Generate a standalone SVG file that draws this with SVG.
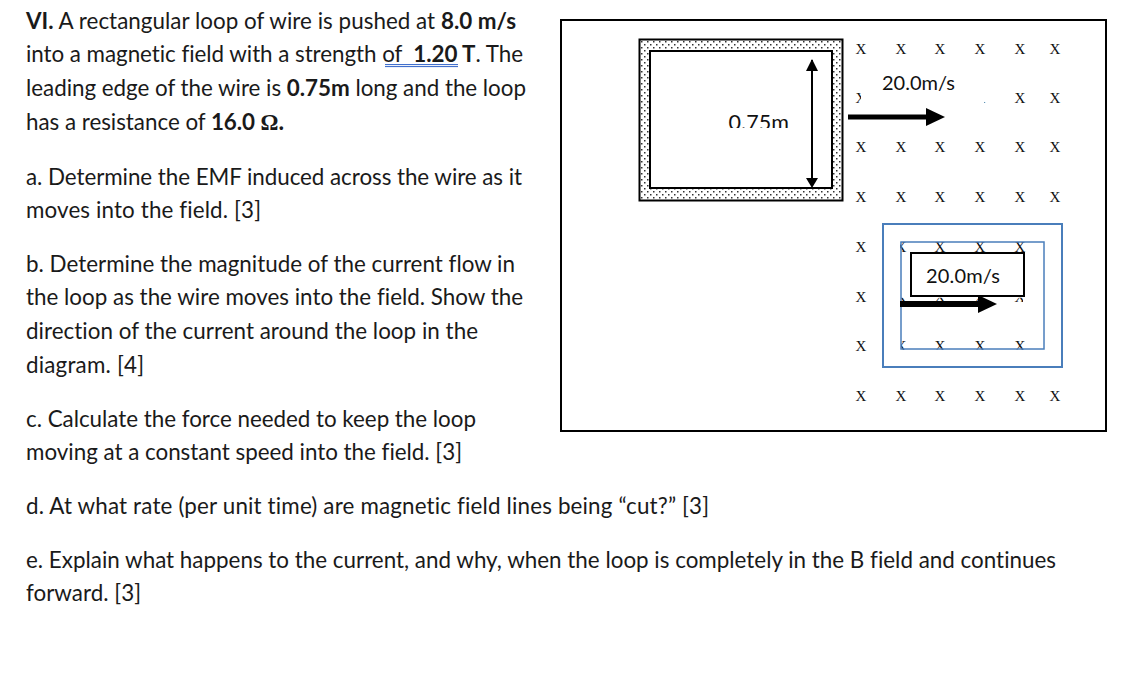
<svg xmlns="http://www.w3.org/2000/svg" width="1134" height="676" viewBox="0 0 1134 676">
<style>
.t{font-family:"Lato","Carlito","Liberation Sans",sans-serif;font-size:22.400px;fill:#1a1a1a;font-variant-ligatures:none}
.b{font-weight:700}
.o{font-family:"Liberation Serif",serif;font-weight:700}
.d{font-family:"Lato","Liberation Sans",sans-serif;font-size:20px;fill:#111}
.x{font-family:"Liberation Serif",serif;font-size:15px;fill:#111;text-anchor:middle}
</style>
<defs>
<pattern id="dots" width="6" height="6" patternUnits="userSpaceOnUse" x="640" y="40">
<rect width="6" height="6" fill="#fff"/>
<rect x="1" y="1" width="1.500" height="1.500" fill="#333"/>
<rect x="4" y="4" width="1.500" height="1.500" fill="#333"/>
</pattern>
<clipPath id="c075"><rect x="700" y="100" width="110" height="28"/></clipPath>
<clipPath id="cA"><rect x="855" y="85" width="6" height="25"/></clipPath>
<clipPath id="cS"><rect x="984" y="99" width="3" height="4"/></clipPath>
<clipPath id="cB"><rect x="900" y="240" width="124" height="13"/><rect x="1024" y="240" width="15" height="13"/></clipPath>
<clipPath id="cC"><rect x="901" y="297" width="122" height="10"/></clipPath>
<clipPath id="cD"><rect x="901" y="335" width="144" height="14"/></clipPath>
</defs>

<g id="question-text" transform="translate(0 0.600)">
<text class="t" x="26" y="28" textLength="490"><tspan class="b">VI.</tspan> A rectangular loop of wire is pushed at <tspan class="b">8.0 m/s</tspan></text>
<text class="t" x="26" y="61" textLength="497">into a magnetic field with a strength of&#160; <tspan class="b">1.20 T</tspan>. The</text>
<text class="t" x="26" y="95" textLength="500">leading edge of the wire is <tspan class="b">0.75m</tspan> long and the loop</text>
<text class="t" x="26" y="129" textLength="258">has a resistance of <tspan class="b">16.0 </tspan><tspan class="o">Ω.</tspan></text>
<text class="t" x="26" y="184" textLength="496">a. Determine the EMF induced across the wire as it</text>
<text class="t" x="26" y="217" textLength="235">moves into the field. [3]</text>
<text class="t" x="26" y="271" textLength="489">b. Determine the magnitude of the current flow in</text>
<text class="t" x="26" y="304" textLength="497">the loop as the wire moves into the field. Show the</text>
<text class="t" x="26" y="338" textLength="452">direction of the current around the loop in the</text>
<text class="t" x="26" y="372" textLength="118">diagram. [4]</text>
<text class="t" x="26" y="426" textLength="450">c. Calculate the force needed to keep the loop</text>
<text class="t" x="26" y="459" textLength="436">moving at a constant speed into the field. [3]</text>
<text class="t" x="26" y="513" textLength="683">d. At what rate (per unit time) are magnetic field lines being “cut?” [3]</text>
<text class="t" x="26" y="567" textLength="1030">e. Explain what happens to the current, and why, when the loop is completely in the B field and continues</text>
<text class="t" x="26" y="600" textLength="115">forward. [3]</text>
<path d="M385 64H458M385 66H458" stroke="#2f62c8" stroke-width="1" fill="none"/>
</g>

<g id="frame"><rect x="561" y="20" width="545" height="411" fill="#fff" stroke="#000" stroke-width="2"/></g>

<g id="field-x" transform="translate(0 0.700)">
<text class="x" x="861" y="53">X</text><text class="x" x="901" y="53">X</text><text class="x" x="940" y="53">X</text><text class="x" x="980" y="53">X</text><text class="x" x="1020" y="53">X</text><text class="x" x="1055" y="53">X</text>
<text class="x" x="861" y="102" clip-path="url(#cA)">X</text><text class="x" x="980" y="102" clip-path="url(#cS)">X</text><text class="x" x="1020" y="102">X</text><text class="x" x="1055" y="102">X</text>
<text class="x" x="861" y="151">X</text><text class="x" x="901" y="151">X</text><text class="x" x="940" y="151">X</text><text class="x" x="980" y="151">X</text><text class="x" x="1020" y="151">X</text><text class="x" x="1055" y="151">X</text>
<text class="x" x="861" y="201">X</text><text class="x" x="901" y="201">X</text><text class="x" x="940" y="201">X</text><text class="x" x="980" y="201">X</text><text class="x" x="1020" y="201">X</text><text class="x" x="1055" y="201">X</text>
<text class="x" x="861" y="251">X</text><text class="x" x="861" y="301">X</text><text class="x" x="861" y="350">X</text>
<text class="x" x="861" y="400">X</text><text class="x" x="901" y="400">X</text><text class="x" x="940" y="400">X</text><text class="x" x="980" y="400">X</text><text class="x" x="1020" y="400">X</text><text class="x" x="1055" y="400">X</text>
<g clip-path="url(#cB)"><text class="x" x="901" y="251">X</text><text class="x" x="940" y="251">X</text><text class="x" x="980" y="251">X</text><text class="x" x="1020" y="251">X</text></g>
<g clip-path="url(#cC)"><text class="x" x="901" y="301">X</text><text class="x" x="940" y="301">X</text><text class="x" x="980" y="301">X</text><text class="x" x="1020" y="301">X</text></g>
<g clip-path="url(#cD)"><text class="x" x="901" y="350">X</text><text class="x" x="940" y="350">X</text><text class="x" x="980" y="350">X</text><text class="x" x="1020" y="350">X</text></g>
</g>

<g id="loop">
<rect x="639.500" y="39.500" width="203" height="161" fill="url(#dots)" stroke="#000" stroke-width="2"/>
<rect x="650" y="51" width="182" height="137" fill="#fff" stroke="#000" stroke-width="2"/>
<text class="d" x="728.500" y="130" textLength="60.500" style="font-size:21.500px" clip-path="url(#c075)">0.75m</text>
</g>

<g id="speed-label-top"><text class="d" x="882" y="90" textLength="73">20.0m/s</text></g>

<g id="blue-boxes" fill="none">
<rect x="883" y="224" width="179" height="143" stroke="#4a7ebb" stroke-width="2"/>
<rect x="901" y="242" width="143" height="107" stroke="#4a7ebb" stroke-width="1.500"/>
</g>

<g id="speed-box">
<rect x="911" y="253" width="113" height="43" fill="#fff" stroke="#000" stroke-width="2"/>
<text class="d" x="926" y="283" textLength="74">20.0m/s</text>
</g>

<g id="connectors">
<path d="M812 60V182" stroke="#000" stroke-width="2" fill="none"/>
<path d="M812 59L806 71H818Z" fill="#000"/>
<path d="M812 188L806 178H818Z" fill="#000"/>
<path d="M848 117H928" stroke="#000" stroke-width="5" fill="none"/>
<path d="M945 117L926 108V126Z" fill="#000"/>
<path d="M900 304H980" stroke="#000" stroke-width="6" fill="none"/>
<path d="M997 304L978 295V313Z" fill="#000"/>
</g>
</svg>
